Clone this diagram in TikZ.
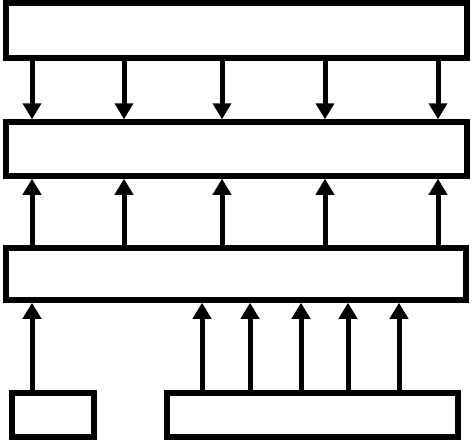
\documentclass[tikz,border=0pt]{standalone}
\usepackage{tikz}
\usetikzlibrary{arrows.meta,positioning}

\begin{document}
\begin{tikzpicture}[x=1pt,y=-1pt,
  blk/.style={draw,line width=5.5pt,inner sep=0pt,fill=white},
  arr/.style={line width=5pt,-{Triangle[length=16pt,width=18pt]}}]
\useasboundingbox (0,0) rectangle (474,442);
\node[blk,minimum width=461pt,minimum height=55pt] (top) at (236.5,30.5) {};
\node[blk,minimum width=461pt,minimum height=54pt] (mid) at (236.5,149) {};
\node[blk,minimum width=460pt,minimum height=52pt] (low) at (236,274) {};
\node[blk,minimum width=82pt,minimum height=44pt] (src) at (53,415) {};
\node[blk,minimum width=291pt,minimum height=44pt] (bus) at (312.5,415) {};
% top -> mid, low -> mid
\foreach \x in {32,124,222,325,438}{
  \coordinate (col) at (\x,0);
  \draw[arr] (top.south -| col) -- (mid.north -| col);
  \draw[arr] (low.north -| col) -- (mid.south -| col);
}
% bottom boxes -> low
\coordinate (col) at (32,0);
\draw[arr] (src.north -| col) -- (low.south -| col);
\foreach \x in {202,250,301,348,399}{
  \coordinate (col) at (\x,0);
  \draw[arr] (bus.north -| col) -- (low.south -| col);
}
\end{tikzpicture}
\end{document}
